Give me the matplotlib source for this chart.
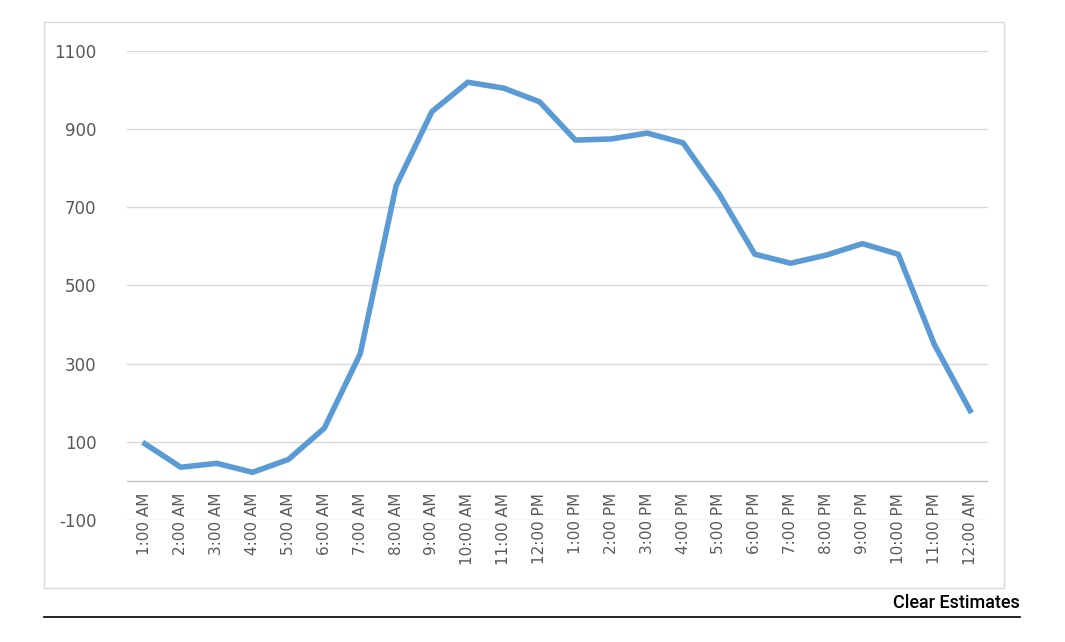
import matplotlib
matplotlib.use("Agg")
import matplotlib.pyplot as plt
from matplotlib.patches import Rectangle

plt.rcParams["axes.unicode_minus"] = False

hours = ["1:00 AM", "2:00 AM", "3:00 AM", "4:00 AM", "5:00 AM", "6:00 AM", "7:00 AM",
         "8:00 AM", "9:00 AM", "10:00 AM", "11:00 AM", "12:00 PM", "1:00 PM", "2:00 PM",
         "3:00 PM", "4:00 PM", "5:00 PM", "6:00 PM", "7:00 PM", "8:00 PM", "9:00 PM",
         "10:00 PM", "11:00 PM", "12:00 AM"]
values = [95, 35, 45, 22, 55, 135, 325, 755, 945, 1020, 1005, 970, 872, 875,
          890, 865, 735, 580, 557, 578, 607, 580, 350, 180]
yticks = [-100, 100, 300, 500, 700, 900, 1100]

W, H = 1065, 642
fig = plt.figure(figsize=(W / 100, H / 100), dpi=100)
fig.patches.append(Rectangle((44 / W, 1 - 588 / H), 960 / W, 566 / H, transform=fig.transFigure,
                             fill=False, edgecolor="#d9d9d9", linewidth=1))
fig.add_artist(plt.Line2D([44 / W, 1020 / W], [1 - 617 / H] * 2, color="black", linewidth=1.2))
fig.text(1020 / W, 1 - 603 / H, "Clear Estimates", ha="right", va="center", fontsize=13,
         family="Roboto", fontweight="medium")

ax = fig.add_axes([127 / W, 1 - 520 / H, 861 / W, 469 / H])
ax.set_xlim(-0.5, len(hours) - 0.5)
ax.set_ylim(-100, 1100)
ax.set_yticks(yticks)
for y in yticks[1:]:
    ax.axhline(y, color="#d9d9d9", linewidth=1, zorder=0)
ax.axhline(0, color="#bfbfbf", linewidth=1, zorder=0)
ax.axhline(-100, color="#d9d9d9", linewidth=1, zorder=0)
for s in ax.spines.values():
    s.set_visible(False)
ax.tick_params(axis="y", length=0, labelsize=12, labelcolor="#595959", pad=22)
ax.set_xticks([])
x = list(range(len(hours)))
ax.plot(x, values, color="#5b9bd5", linewidth=4, solid_joinstyle="round", zorder=3)
for i, lab in enumerate(hours):
    ax.text(i, -30, lab, rotation=90, ha="center", va="top", fontsize=11, color="#595959")

fig.savefig("out.png", dpi=100)
